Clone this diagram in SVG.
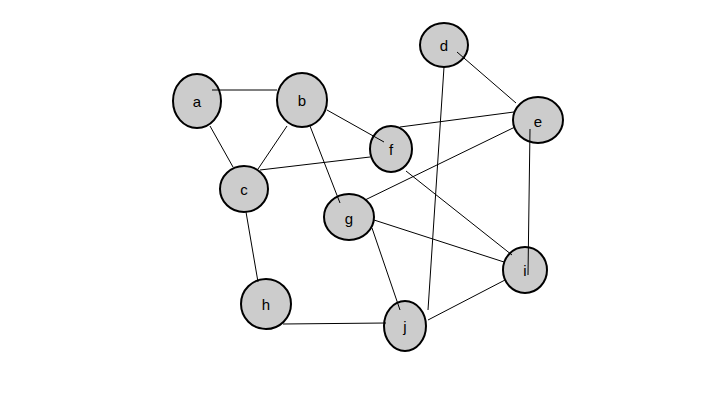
<svg xmlns="http://www.w3.org/2000/svg" width="719" height="404" viewBox="0 0 719 404">
<style>
.n ellipse{fill:#cccccc;stroke:#000;stroke-width:2}
.n text{font-family:"Liberation Sans",Arial,sans-serif;font-size:15px;text-anchor:middle;dominant-baseline:central}
#edges line{stroke:#000;stroke-width:1}
</style>
<rect width="719" height="404" fill="#fff"/>
<g class="n" id="a"><ellipse cx="197" cy="101" rx="24" ry="27"/><text x="197" y="101">a</text></g>
<g class="n" id="b"><ellipse cx="302" cy="100" rx="25" ry="27"/><text x="302" y="100">b</text></g>
<g class="n" id="c"><ellipse cx="244" cy="189" rx="24" ry="23"/><text x="244" y="189">c</text></g>
<g class="n" id="d"><ellipse cx="444" cy="45" rx="24" ry="22"/><text x="444" y="45">d</text></g>
<g class="n" id="e"><ellipse cx="538" cy="120" rx="25" ry="23"/><text x="538" y="121">e</text></g>
<g class="n" id="f"><ellipse cx="391" cy="149" rx="21" ry="23"/><text x="391" y="149">f</text></g>
<g class="n" id="g"><ellipse cx="349" cy="217" rx="25" ry="23"/><text x="349" y="218">g</text></g>
<g class="n" id="h"><ellipse cx="266" cy="304" rx="25" ry="25"/><text x="266" y="304">h</text></g>
<g class="n" id="i"><ellipse cx="525" cy="270" rx="22" ry="23"/><text x="525" y="270">i</text></g>
<g class="n" id="j"><ellipse cx="405" cy="326" rx="21" ry="25"/><text x="405" y="326">j</text></g>
<g id="edges">
<line x1="212" y1="90" x2="277" y2="90"/>
<line x1="210" y1="126" x2="233" y2="167"/>
<line x1="287" y1="126" x2="258" y2="169"/>
<line x1="327" y1="110" x2="384" y2="142"/>
<line x1="310" y1="126" x2="340" y2="203"/>
<line x1="260" y1="170" x2="370" y2="157"/>
<line x1="400" y1="127" x2="514" y2="112"/>
<line x1="515" y1="127" x2="365" y2="200"/>
<line x1="457" y1="52" x2="516" y2="103"/>
<line x1="444" y1="67" x2="428" y2="310"/>
<line x1="530" y1="129" x2="528" y2="275"/>
<line x1="406" y1="171" x2="512" y2="255"/>
<line x1="374" y1="220" x2="504" y2="262"/>
<line x1="372" y1="228" x2="400" y2="310"/>
<line x1="283" y1="324" x2="386" y2="323"/>
<line x1="428" y1="320" x2="505" y2="280"/>
<line x1="246" y1="212" x2="258" y2="282"/>
</g>
</svg>
